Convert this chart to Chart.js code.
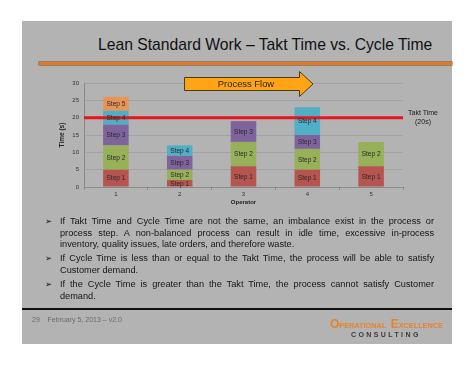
<!DOCTYPE html>
<html>
<head>
<meta charset="utf-8">
<script src="https://cdn.jsdelivr.net/npm/chart.js@4"></script>
<style>
  html, body { margin: 0; padding: 0; background: #fff; }
  body { width: 474px; height: 366px; position: relative; overflow: hidden;
         font-family: "Liberation Sans", Arial, sans-serif; color: #111; }
  #slide { position: absolute; left: 22px; top: 21px; width: 430px; height: 323px; background: #b3b3b3; }
  #title { position: absolute; left: 98px; top: 36px; font-size: 15.7px; line-height: 18px; white-space: nowrap; }
  #rule { position: absolute; left: 39px; top: 62px; width: 413px; height: 3px; background: #e07a28;
          box-shadow: 0 0 0 0.5px #7a4c22; }
  #chartBox { position: absolute; left: 0; top: 0; width: 474px; height: 215px; }
  #overlay { position: absolute; left: 0; top: 0; }
  #takt { position: absolute; left: 400px; top: 108px; width: 46px; text-align: center;
          font-size: 7px; line-height: 9px; color: #1a1a1a; }
  .para { position: absolute; left: 45px; width: 390px; font-size: 9.2px; line-height: 11.5px; color: #151515; }
  .para .b { position: absolute; left: 0; top: 0; font-family: "DejaVu Sans"; font-size: 8.5px; }
  .para .ln { margin-left: 15px; width: 374px; white-space: nowrap; }
  .para .j { text-align: justify; text-align-last: justify; white-space: normal; }
  #black { position: absolute; left: 22px; top: 308px; width: 430px; height: 2px; background: #111; }
  #foot { position: absolute; left: 32px; top: 316px; font-size: 7px; color: #6a6a6a; white-space: nowrap; }
  #oe { position: absolute; left: 330px; top: 314px; color: #e8832a; white-space: nowrap; font-weight: bold; }
  #oe .big { font-size: 12px; }
  #oe .sm { font-size: 7.3px; }
  #cons { position: absolute; left: 351px; top: 331px; font-size: 7px; font-weight: bold; letter-spacing: 2.4px;
          color: #3a3a3a; white-space: nowrap; }
</style>
</head>
<body>
<div id="slide"></div>
<div id="title">Lean Standard Work – Takt Time vs. Cycle Time</div>
<div id="rule"></div>
<div id="chartBox"><canvas id="chart" width="474" height="215"></canvas></div>
<svg id="overlay" width="474" height="366">
  <polygon points="184.5,77.5 299.5,77.5 299.5,71.5 313,84 299.5,96.5 299.5,90.5 184.5,90.5"
           fill="#ffa414" stroke="#4d3b12" stroke-width="1"/>
  <text x="246" y="87.3" text-anchor="middle" font-family="Liberation Sans, Arial, sans-serif"
        font-size="9.4" fill="#1e1e1e">Process Flow</text>
</svg>
<div id="takt">Takt Time<br>(20s)</div>

<div class="para" style="top:216px">
  <span class="b">➢</span>
  <div class="ln j">If Takt Time and Cycle Time are not the same, an imbalance exist in the process or</div>
  <div class="ln j">process step. A non-balanced process can result in idle time, excessive in-process</div>
  <div class="ln">inventory, quality issues, late orders, and therefore waste.</div>
</div>
<div class="para" style="top:253px">
  <span class="b">➢</span>
  <div class="ln j">If Cycle Time is less than or equal to the Takt Time, the process will be able to satisfy</div>
  <div class="ln">Customer demand.</div>
</div>
<div class="para" style="top:279px">
  <span class="b">➢</span>
  <div class="ln j">If the Cycle Time is greater than the Takt Time, the process cannot satisfy Customer</div>
  <div class="ln">demand.</div>
</div>

<div id="black"></div>
<div id="foot">29&nbsp;&nbsp;&nbsp;&nbsp;February 5, 2013 – v2.0</div>
<div id="oe"><span class="big">O</span><span class="sm">PERATIONAL</span> <span class="big">E</span><span class="sm">XCELLENCE</span></div>
<div id="cons">CONSULTING</div>

<script>
// operators on the x axis
const operators = ['1', '2', '3', '4', '5'];

// time of each step per operator (s)
const step1 = [5, 2, 6, 5, 6];
const step2 = [7, 3, 7, 6, 7];
const step3 = [6, 4, 6, 4, null];
const step4 = [4, 3, null, 8, null];
const step5 = [4, null, null, null, null];

const stepNames  = ['Step 1', 'Step 2', 'Step 3', 'Step 4', 'Step 5'];
const stepColors = ['#b65450', '#97b159', '#7e639d', '#50aec5', '#e99457'];

// takt time line spans the whole category range
const taktTime = 20;
const taktX = [0.5, 5.5];

const yTicks = { min: 0, max: 30, step: 5 };

// "Step N" text in the middle of each segment
const stepLabels = {
  id: 'stepLabels',
  afterDatasetsDraw(chart) {
    const ctx = chart.ctx;
    ctx.save();
    ctx.font = '6.5px "Liberation Sans", Arial, sans-serif';
    ctx.fillStyle = '#2a2a2a';
    ctx.textAlign = 'center';
    ctx.textBaseline = 'middle';
    chart.data.datasets.forEach((ds, i) => {
      if (ds.type === 'line') return;
      chart.getDatasetMeta(i).data.forEach((bar, j) => {
        if (ds.data[j] == null) return;
        ctx.fillText(ds.label, bar.x, (bar.y + bar.base) / 2 + 0.5);
      });
    });
    ctx.restore();
  }
};

const stepData = [step1, step2, step3, step4, step5];
const datasets = [{
  type: 'line',
  label: 'Takt Time',
  data: taktX.map(x => ({ x, y: taktTime })),
  xAxisID: 'xt',
  borderColor: '#e8151c',
  borderWidth: 3,
  pointRadius: 0,
  fill: false,
  order: 0
}].concat(stepData.map((d, i) => ({
  label: stepNames[i],
  data: d,
  backgroundColor: stepColors[i],
  borderWidth: 0,
  grouped: false,
  barPercentage: 0.4,
  categoryPercentage: 1,
  order: 1
})));

const tickFont = { family: '"Liberation Sans", Arial, sans-serif', size: 6 };

new Chart(document.getElementById('chart'), {
  type: 'bar',
  data: { labels: operators, datasets },
  plugins: [stepLabels],
  options: {
    responsive: false,
    animation: false,
    events: [],
    layout: { padding: { left: 54, right: 71, top: 83, bottom: 8 } },
    plugins: { legend: { display: false }, tooltip: { enabled: false } },
    scales: {
      x: {
        stacked: true,
        afterFit: s => { s.height = 20; },
        grid: { drawOnChartArea: false, drawTicks: true, tickLength: 3, color: '#8a8a8a' },
        border: { color: '#8a8a8a' },
        ticks: { font: tickFont, color: '#333', padding: 1 },
        title: { display: true, text: 'Operator', color: '#222',
                 font: { family: '"Liberation Sans", Arial, sans-serif', size: 6, weight: 'bold' },
                 padding: { top: 0, bottom: 1 } }
      },
      xt: { type: 'linear', min: taktX[0], max: taktX[1], offset: false, display: false },
      y: {
        stacked: true,
        min: yTicks.min, max: yTicks.max,
        afterFit: s => { s.width = 30; },
        grid: { color: '#a3a3a3', drawTicks: false },
        border: { color: '#8a8a8a' },
        ticks: { stepSize: yTicks.step, font: tickFont, color: '#333', padding: 5 },
        title: { display: true, text: 'Time (s)', color: '#222',
                 font: { family: '"Liberation Sans", Arial, sans-serif', size: 6.5, weight: 'bold' },
                 padding: { top: 4, bottom: 0 } }
      }
    }
  }
});
</script>
</body>
</html>
